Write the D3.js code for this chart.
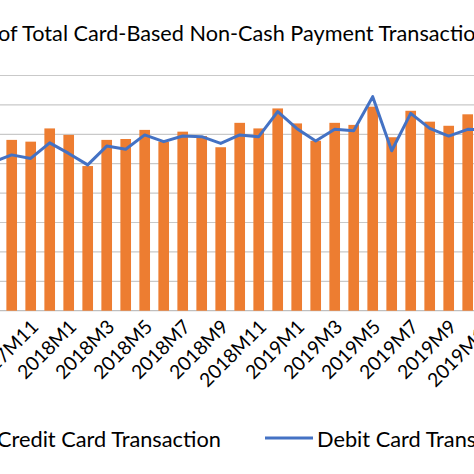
<!DOCTYPE html>
<html><head><meta charset="utf-8">
<script src="https://cdn.jsdelivr.net/npm/d3@7"></script>
<style>body{margin:0;background:#fff}svg{display:block}</style>
</head><body>
<svg id="c" width="474" height="474"></svg>
<script>
const categories = ["2017M9","2017M10","2017M11","2017M12","2018M1","2018M2","2018M3","2018M4","2018M5","2018M6","2018M7","2018M8","2018M9","2018M10","2018M11","2018M12","2019M1","2019M2","2019M3","2019M4","2019M5","2019M6","2019M7","2019M8","2019M9","2019M10","2019M11","2019M12"];
const creditShare = [57.0,58.1,57.5,62.0,59.8,49.2,58.1,58.4,61.5,57.5,60.9,59.4,55.6,63.9,62.0,68.8,63.7,57.8,63.9,63.2,69.4,59.0,68.0,64.3,62.9,66.8,64.0,63.0];
const debitShare = [50.5,53.0,51.8,57.1,53.5,49.6,56.0,54.9,59.8,57.5,59.4,59.2,56.9,59.8,59.2,67.7,62.0,57.7,61.7,61.2,72.8,54.4,67.1,62.0,59.4,61.7,61.5,61.0];
const yTicks = [0,10,20,30,40,50,60,70,80];
const tickLabels = categories.filter((d,i)=>i%2===0);

const svg = d3.select("#c");
const font = "Lato, 'Open Sans', sans-serif";
const step = 19;
const x = d3.scaleBand().domain(categories).range([-7.3 - step/2, -7.3 - step/2 + step*categories.length]).paddingInner(0.44).paddingOuter(0.22);
const y = d3.scaleLinear().domain([0,80]).range([310.7, 75.5]);

// fit helper: set font size so text node has width w
function fit(sel, w){ const l = sel.node().getComputedTextLength(); const fs = +sel.attr("font-size"); sel.attr("font-size", fs*w/l); }

svg.append("g").selectAll("line").data(yTicks).join("line")
  .attr("x1",0).attr("x2",474).attr("y1",d=>y(d)).attr("y2",d=>y(d))
  .attr("stroke",d=>d===0?"#bfbfbf":"#c9c9c9").attr("stroke-width",1.2);

svg.append("g").selectAll("rect").data(categories).join("rect")
  .attr("x",d=>x(d)).attr("width",x.bandwidth())
  .attr("y",(d,i)=>y(creditShare[i])).attr("height",(d,i)=>y(0)-y(creditShare[i]))
  .attr("fill","#ED7D31");

const cx = d => x(d)+x.bandwidth()/2;
svg.append("path").datum(categories)
  .attr("d", d3.line().x(d=>cx(d)).y((d,i)=>y(debitShare[i])))
  .attr("fill","none").attr("stroke","#4472C4").attr("stroke-width",3).attr("stroke-linejoin","round");

// tick label size: "2018M1" ≈ 76px long in reference
const probe = svg.append("text").attr("font-family",font).attr("font-size",16).text("2018M1");
fit(probe, 74);
const tfs = +probe.attr("font-size"); probe.remove();
svg.append("g").selectAll("text").data(tickLabels).join("text")
  .attr("transform",d=>`translate(${cx(d)+9},${328}) rotate(-45)`)
  .attr("text-anchor","end").attr("font-family",font).attr("font-size",tfs).attr("fill","#000")
  .text(d=>d);

// title
const t = svg.append("text").attr("y",41).attr("font-family",font).attr("font-size",20).attr("fill","#000");
t.append("tspan").text("Share ");
const t2 = t.append("tspan").text("of Total Card-Based Non-Cash Payment Transactions");
const probe2 = svg.append("text").attr("font-family",font).attr("font-size",20).text("of Total Card-Based Non-Cash Payment Transactio");
const pl = probe2.node().getComputedTextLength(); probe2.remove();
t.attr("font-size", 20*478/pl);
const startOf = t2.node().getStartPositionOfChar(0).x;
t.attr("x", -2 - startOf);

// legend
const l1 = svg.append("text").attr("x",-3).attr("y",447).attr("font-family",font).attr("font-size",20).attr("fill","#000").text("Credit Card Transaction");
fit(l1, 224);
svg.append("line").attr("x1",265).attr("x2",313).attr("y1",438).attr("y2",438).attr("stroke","#4472C4").attr("stroke-width",3);
svg.append("text").attr("x",317).attr("y",447).attr("font-family",font).attr("font-size",l1.attr("font-size")).attr("fill","#000").text("Debit Card Transaction");
</script>
</body></html>
